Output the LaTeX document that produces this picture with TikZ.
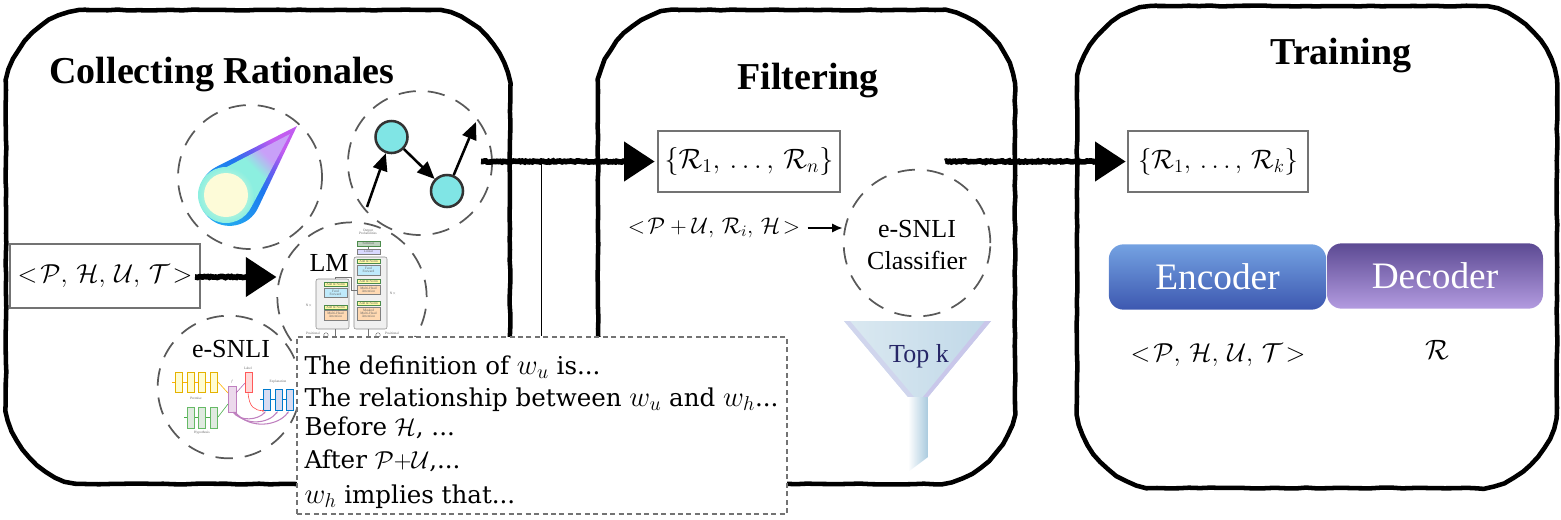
\documentclass[tikz,border=0pt]{standalone}
\usepackage{fix-cm}
\usepackage{fontspec}
\setmainfont{Liberation Serif}
\newfontfamily\slabfont{DejaVu Serif}
\usetikzlibrary{arrows.meta,decorations.pathmorphing}

\newcommand{\fsz}[1]{\fontsize{#1}{#1}\selectfont}
\newcommand{\cP}{\mathcal{P}}
\newcommand{\cH}{\mathcal{H}}
\newcommand{\cU}{\mathcal{U}}
\newcommand{\cT}{\mathcal{T}}
\newcommand{\cR}{\mathcal{R}}
\newcommand{\bigw}[1]{{\fsz{21.5}$w_#1$}}
\newcommand{\tupletext}{$<\!\cP,\,\cH,\,\cU,\,\cT\!>$}
\newcommand{\roughpanel}[4]{\draw[panelbox] ({#1+80},#2) -- ({#3-80},#2) .. controls ({#3-36},#2) and (#3,{#2+44}) .. (#3,{#2+80}) -- (#3,{#4-80}) .. controls (#3,{#4-44}) and ({#3-36},#4) .. ({#3-80},#4) -- ({#1+80},#4) .. controls ({#1+36},#4) and (#1,{#4-44}) .. (#1,{#4-80}) -- (#1,{#2+80}) .. controls (#1,{#2+44}) and ({#1+36},#2) .. cycle;}

\definecolor{cellcyan}{HTML}{80E5E5}
\definecolor{enctop}{HTML}{74A2E2}
\definecolor{encbot}{HTML}{3D58B0}
\definecolor{dectop}{HTML}{5C4A93}
\definecolor{decbot}{HTML}{B39BE0}
\definecolor{funnelA}{HTML}{DBE9F1}
\definecolor{funnelB}{HTML}{A9CADE}
\definecolor{funnelC}{HTML}{C0D8E8}
\definecolor{funnelD}{HTML}{C9C7EA}
\definecolor{cometA}{HTML}{22A6F0}
\definecolor{cometB}{HTML}{1E78EE}
\definecolor{cometC}{HTML}{6A5CF0}
\definecolor{cometD}{HTML}{C25CF0}
\definecolor{cometE}{HTML}{58D4F0}
\definecolor{cometF}{HTML}{8CEFE0}
\definecolor{cometG}{HTML}{C8A0F8}
\definecolor{cometH}{HTML}{FDFBD8}

\pgfdeclareverticalshading{cometrim}{100bp}{color(0bp)=(cometA); color(30bp)=(cometA); color(52bp)=(cometB); color(62bp)=(cometC); color(72bp)=(cometD); color(100bp)=(cometD)}
\pgfdeclareverticalshading{cometcore}{100bp}{color(0bp)=(cometE); color(34bp)=(cometE); color(48bp)=(cometF); color(58bp)=(cometF); color(68bp)=(cometG); color(100bp)=(cometG)}

\tikzset{every picture/.style={line width=0.75pt}}
\tikzset{
  panelbox/.style={draw=black,line width=3.4pt,decorate,decoration={random steps,segment length=8pt,amplitude=0.35pt}},
  dashcircle/.style={circle,draw=black!65,line width=1.3pt,dash pattern=on 13pt off 9pt,inner sep=0pt},
  grayframe/.style={draw=black!55,line width=1.5pt,inner sep=0pt},
  roughstroke/.style={draw=black,line width=4.2pt,-{Triangle[length=23pt,width=29pt]},decorate,decoration={random steps,segment length=1.2pt,amplitude=0.45pt,post=lineto,post length=23pt}},
  graphnode/.style={circle,draw=black!80,fill=cellcyan,line width=1.9pt,minimum size=24pt,inner sep=0pt},
  grapharrow/.style={draw=black,line width=1.9pt,-{Triangle[length=13pt,width=11pt]}},
  titletext/.style={inner sep=0pt,anchor=base west,font=\bfseries\fsz{28.5}},
  sertext/.style={inner sep=0pt,font=\fsz{19.5}},
  tinytext/.style={inner sep=0pt,text=black!60,font=\fsz{2.6},align=center},
  addnorm/.style={draw=green!35!black!70,fill=yellow!35!white,line width=0.25pt},
  feedfwd/.style={draw=black!50,fill=cyan!25!white,line width=0.25pt},
  attn/.style={draw=black!50,fill=orange!30!white,line width=0.25pt},
  outerblock/.style={draw=black!45,fill=black!6,line width=0.4pt,rounded corners=1.5pt},
  wirepath/.style={draw=black!55,line width=0.35pt},
  cellbox/.style={line width=0.45pt},
  smallwire/.style={line width=0.45pt},
}

\begin{document}
\begin{tikzpicture}[x=0.75pt,y=0.75pt,yscale=-1,xscale=1]
\useasboundingbox (0,0) rectangle (1561,519);

%Shape: Rounded panels
\roughpanel{6}{10}{510}{484}
\roughpanel{598}{10}{1015}{484}
\roughpanel{1077}{6}{1557}{488}

% Text Node
\node[titletext] (titlecoll) at (49,83) {Collecting Rationales};
% Text Node
\node[titletext] (titlefilt) at (737,89) {Filtering};
% Text Node
\node[titletext] (titletrain) at (1270,64) {Training};

%Shape: Circle
\node[dashcircle,minimum size=108pt] (cometring) at (250,177) {};
\node[dashcircle,minimum size=108pt] (graphring) at (420,163) {};
\node[dashcircle,minimum size=112pt] (lmring) at (352,297) {};
\node[dashcircle,minimum size=107pt] (esnliring) at (229,387) {};
\node[dashcircle,minimum size=110pt] (classring) at (917,243) {};

%Shape: Comet
\shade[shading=cometrim,shading angle=-45]
  (297,126) -- (258,208) .. controls (249,227) and (223.5,232) .. (208.4,217.3) .. controls (193.3,202.6) and (197.3,176.7) .. (216,167) -- cycle;
\shade[shading=cometcore,shading angle=-45]
  (290,134) -- (253,204) .. controls (245,219) and (224,224) .. (211,212) .. controls (199,200) and (204,180) .. (219,171) -- cycle;
\shade[inner color=cometH,outer color=cometF] (226,195) circle (21pt);
\fill[cometH] (226,195) circle (16.5pt);

%Shape: Graph
\node[graphnode] (nodea) at (391.5,137) {};
\node[graphnode] (nodeb) at (447,191) {};
\coordinate (graphin) at (367,207);
\coordinate (graphout) at (476,122);
%Straight Lines
\draw[grapharrow] (graphin) -- (nodea);
\draw[grapharrow] (nodea) -- (nodeb);
\draw[grapharrow] (nodeb) -- (graphout);

%Shape: Input box
\node[grayframe,minimum width=142pt,minimum height=48pt] (inputbox) at (105,276) {\fsz{19.5}\tupletext};

% Text Node
\node[sertext] (lmlabel) at (329,263) {LM};
%Shape: Encoder stack
\draw[outerblock] (316,279) rectangle (349,329);
\draw[outerblock] (354,257) rectangle (387,329);
\draw[wirepath] (335,279) -- (335,277) -- (351,277) -- (351,290) -- (357,290);
\draw[wirepath] (335,329) -- (335,337);
\draw[wirepath] (368,245) -- (368,249);
\draw[wirepath] (368,329) -- (368,337);
\draw[draw=green!35!black!70,fill=green!30!black!25] (357,241) rectangle (380,246);
\draw[draw=black!50,fill=blue!15!white] (357,249) rectangle (380,254);
\foreach \xa/\ya in {324/282,324/305,357/259,357/279,357/301}
  \draw[addnorm] (\xa,\ya) rectangle ++(23,4.5);
\draw[feedfwd] (324,288) rectangle (347,297);
\draw[feedfwd] (357,265) rectangle (380,275);
\draw[attn] (324,310) rectangle (347,320);
\draw[attn] (357,285) rectangle (380,294);
\draw[attn] (357,307) rectangle (380,320);
% Text Node
\node[tinytext] (outprob) at (368,232) {Output\\[-0.3pt]Probabilities};
\node[tinytext] (softm) at (368.5,243.5) {Softmax};
\node[tinytext] (lin) at (368.5,251.5) {Linear};
\foreach \xa/\ya/\idx in {335.5/284/1,335.5/307/2,368.5/261/3,368.5/281/4,368.5/303/5}
  \node[tinytext] (norm\idx) at (\xa,\ya) {Add \& Norm};
\node[tinytext] (ffa) at (335.5,292.5) {Feed\\[-0.3pt]Forward};
\node[tinytext] (ffb) at (368.5,270) {Feed\\[-0.3pt]Forward};
\node[tinytext] (mha) at (335.5,315) {Multi-Head\\[-0.3pt]Attention};
\node[tinytext] (mhb) at (368.5,289.5) {Multi-Head\\[-0.3pt]Attention};
\node[tinytext] (mhc) at (368.5,313.5) {Masked\\[-0.3pt]Multi-Head\\[-0.3pt]Attention};
\node[tinytext] (nxa) at (309,306) {N$\times$};
\node[tinytext] (nxb) at (393,294) {N$\times$};
\node[tinytext] (posa) at (313,333) {Positional};
\node[tinytext] (posb) at (392,333) {Positional};
\draw[wirepath] (326,335) circle (1.7pt);
\draw[wirepath] (378,335) circle (1.7pt);

% Text Node
\node[sertext] (esnlilabel) at (231,349) {e-SNLI};
%Shape: e-SNLI cells
\draw[smallwire,draw=orange!60!yellow] (172,382) -- (218,382);
\draw[smallwire,draw=green!55!black!70] (184,417) -- (218,417);
\draw[smallwire,draw=blue!40!cyan!80!black] (260,399) -- (294,399);
\foreach \xa in {175,187,198,210}
  \draw[cellbox,draw=orange!45!yellow!90!black,fill=orange!15!yellow!18!white] (\xa,372) rectangle ++(7.5,20);
\foreach \xa in {187,198,210}
  \draw[cellbox,draw=green!55!black!60,fill=green!30!black!12!white] (\xa,407) rectangle ++(7.5,21);
\foreach \xa in {263,275,286}
  \draw[cellbox,draw=blue!40!cyan!80!black,fill=cyan!35!blue!15!white] (\xa,389) rectangle ++(7.5,21);
\draw[cellbox,draw=red!65!white,fill=red!15!white] (245,372) rectangle ++(7.5,20);
\draw[cellbox,draw=violet!50!white,fill=violet!15!white] (228,386) rectangle ++(8,26);
\draw[smallwire,draw=orange!60!yellow] (218,382) -- (228,393);
\draw[smallwire,draw=green!55!black!70] (218,417) -- (228,404);
\draw[smallwire,draw=violet!60!white] (236,393) -- (245,383);
\draw[smallwire,draw=red!70!white,-{Latex[length=2pt]}] (248,392) .. controls (249,408) and (255,410) .. (265,411);
\draw[smallwire,line width=0.8pt,draw=violet!50!white,-{Latex[length=2pt]}] (233,412) .. controls (240,422) and (258,420) .. (266,411);
\draw[smallwire,line width=0.8pt,draw=violet!50!white,-{Latex[length=2pt]}] (234,412) .. controls (245,426) and (268,424) .. (278,411);
\draw[smallwire,line width=0.8pt,draw=violet!50!white,-{Latex[length=2pt]}] (235,412) .. controls (250,430) and (278,426) .. (289,411);
% Text Node
\node[tinytext] (premlabel) at (196,398) {Premise};
\node[tinytext] (hyplabel) at (202,433) {Hypothesis};
\node[tinytext] (fnlabel) at (232,382) {$f$};
\node[tinytext] (labellabel) at (248,368) {Label};
\node[tinytext] (explabel) at (278,382) {Explanation};

%Shape: Rationale boxes
\node[grayframe,minimum width=136pt,minimum height=45.5pt] (rnbox) at (749,161.5) {\fsz{21}$\{\cR_1,\,\ldots,\,\cR_n\}$};
\node[grayframe,minimum width=135pt,minimum height=45.5pt] (rkbox) at (1218,161.5) {\fsz{20}$\{\cR_1,\,\ldots,\,\cR_k\}$};

%Straight Lines
\coordinate (arrowa) at (481,161.5);
\coordinate (arrowb) at (945,161.5);
\coordinate (junction) at (541,161.5);
\draw[roughstroke,shorten >=2pt] (arrowa) -- (rnbox);
\draw[roughstroke,shorten >=1pt] (arrowb) -- (rkbox);
\draw[roughstroke] (195,277) -- (lmring.west |- 0,277);

% Text Node
\node[inner sep=0pt] (rilabel) at (714,228) {\fsz{17}$<\!\cP+\cU,\,\cR_i,\,\cH\!>$};
% Text Node
\node[sertext,align=center] (classlabel) at (917,245) {e-SNLI\\[5pt]Classifier};
%Straight Lines
\draw[draw=black,line width=1.6pt,-{Latex[length=8pt,width=7pt]}] (rilabel.east) ++(7,0) -- (classring.west |- rilabel);

%Shape: Funnel
\shade[left color=funnelA,middle color=funnelB,right color=funnelC] (844,321) -- (991,321) -- (928,397) -- (908,397) -- cycle;
\fill[funnelD] (985,321) -- (991,321) -- (928,397) -- (923,397) -- cycle;
\fill[funnelD!60!funnelA] (844,321) -- (850,321) -- (914,397) -- (908,397) -- cycle;
\shade[left color=white,right color=funnelB] (908,397) -- (928,397) -- (928,457) -- (908,472) -- cycle;
% Text Node
\node[sertext,text=blue!30!black!85] (topk) at (919,356) {Top k};

%Shape: Encoder and Decoder
\node[rounded corners=11pt,minimum width=163pt,minimum height=49pt,inner sep=0pt,top color=enctop,bottom color=encbot,text=white,font=\fsz{28}] (encoderbox) at (1217.5,277) {Encoder};
\node[rounded corners=11pt,minimum width=162pt,minimum height=49pt,inner sep=0pt,top color=dectop,bottom color=decbot,text=white,font=\fsz{28}] (decoderbox) at (1435,276) {Decoder};
% Text Node
\node[inner sep=0pt] (inlabel) at (1218,355) {\fsz{19.5}\tupletext};
\node[inner sep=0pt] (outlabel) at (1437,350) {\fsz{21}$\cR$};

%Straight Lines
\path (junction) ++(0,-1) coordinate (junctop);
%Shape: Prompts box
\node[draw=black!55,line width=1.5pt,dash pattern=on 3.75pt off 2.6pt,fill=white,minimum width=367.5pt,minimum height=133pt,inner sep=0pt] (promptbox) at (542,425.5) {};
\draw[black,line width=0.6pt] (junctop) -- (junctop |- promptbox.north);
% Text Node
\node[anchor=north west,inner sep=0pt,align=left,font=\slabfont\fsz{18.4}] (prompttext) at (304,355) {The definition of \bigw{u} is...\\[6pt]
The relationship between \bigw{u} and \bigw{h}...\\[3.5pt]
Before $\cH$, ...\\[6pt]
After $\cP{+}\cU$,...\\[8pt]
\bigw{h} implies that...};

\end{tikzpicture}
\end{document}
